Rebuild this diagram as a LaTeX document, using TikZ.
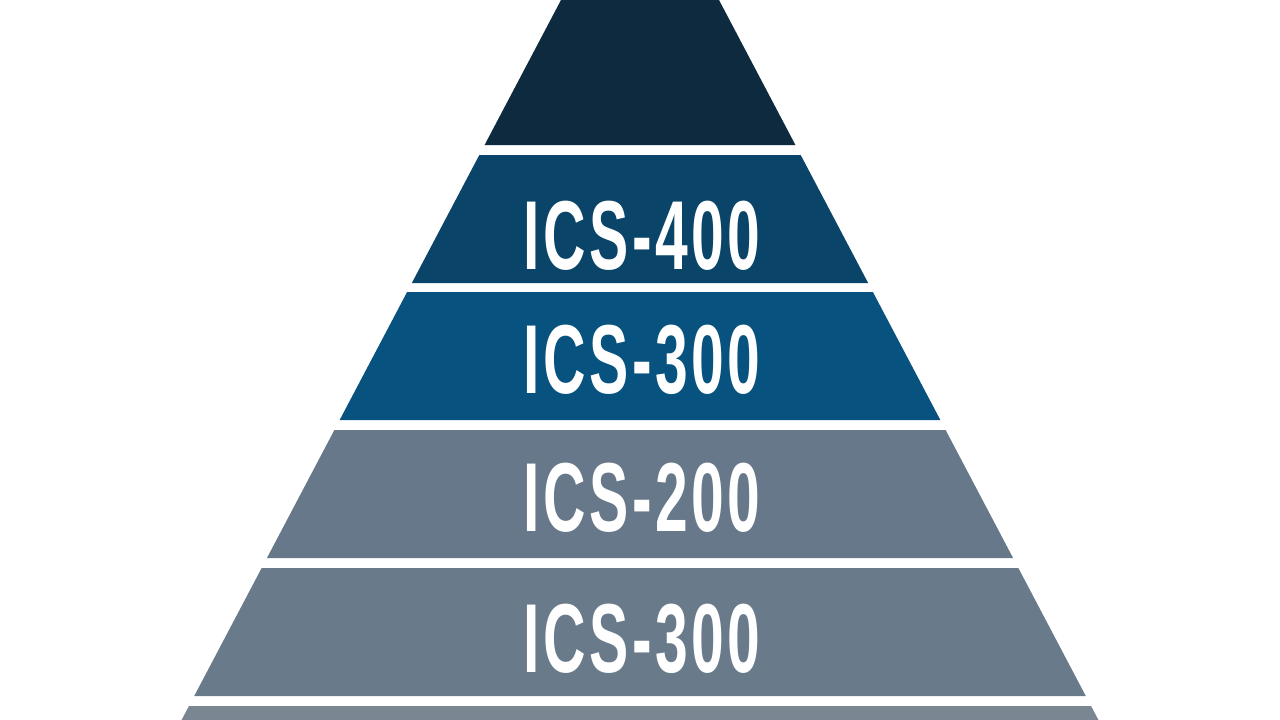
\documentclass[tikz,border=0pt]{standalone}
\usepackage{fontspec}
\setmainfont{Liberation Sans}
\usepackage{graphicx}

\definecolor{tiertop}{HTML}{0D2A3E}
\definecolor{tierfour}{HTML}{0A4468}
\definecolor{tierthree}{HTML}{07527E}
\definecolor{tiertwo}{HTML}{667889}
\definecolor{tierone}{HTML}{697A8A}
\definecolor{tierbase}{HTML}{7A8793}

\begin{document}
\begin{tikzpicture}[x=1pt, y=-1pt,
		tierlabel/.style={text=white, font=\bfseries\fontsize{98}{98}\selectfont\addfontfeatures{LetterSpace=6}, anchor=base, inner sep=0pt},
	]
	\useasboundingbox (0,0) rectangle (1280,720);
	\clip (0,0) rectangle (1280,720);

	% pyramid tiers, half width grows with depth
	\foreach \ytop/\ybot/\col in {0/145/tiertop, 155/283/tierfour, 292/420/tierthree, 430/558/tiertwo, 568/696/tierone, 706/834/tierbase}{
		\pgfmathsetmacro{\halftop}{79+0.527*\ytop}
		\pgfmathsetmacro{\halfbot}{79+0.527*\ybot}
		\fill[\col] (640-\halftop,\ytop) -- (640+\halftop,\ytop) -- (640+\halfbot,\ybot) -- (640-\halfbot,\ybot) -- cycle;
	}

	\node[tierlabel] (ics400)  at (642,269) {\scalebox{0.60}[1]{ICS-400}};
	\node[tierlabel] (ics300a) at (642,393) {\scalebox{0.60}[1]{ICS-300}};
	\node[tierlabel] (ics200)  at (642,531) {\scalebox{0.60}[1]{ICS-200}};
	\node[tierlabel] (ics300b) at (642,672) {\scalebox{0.60}[1]{ICS-300}};

\end{tikzpicture}
\end{document}
